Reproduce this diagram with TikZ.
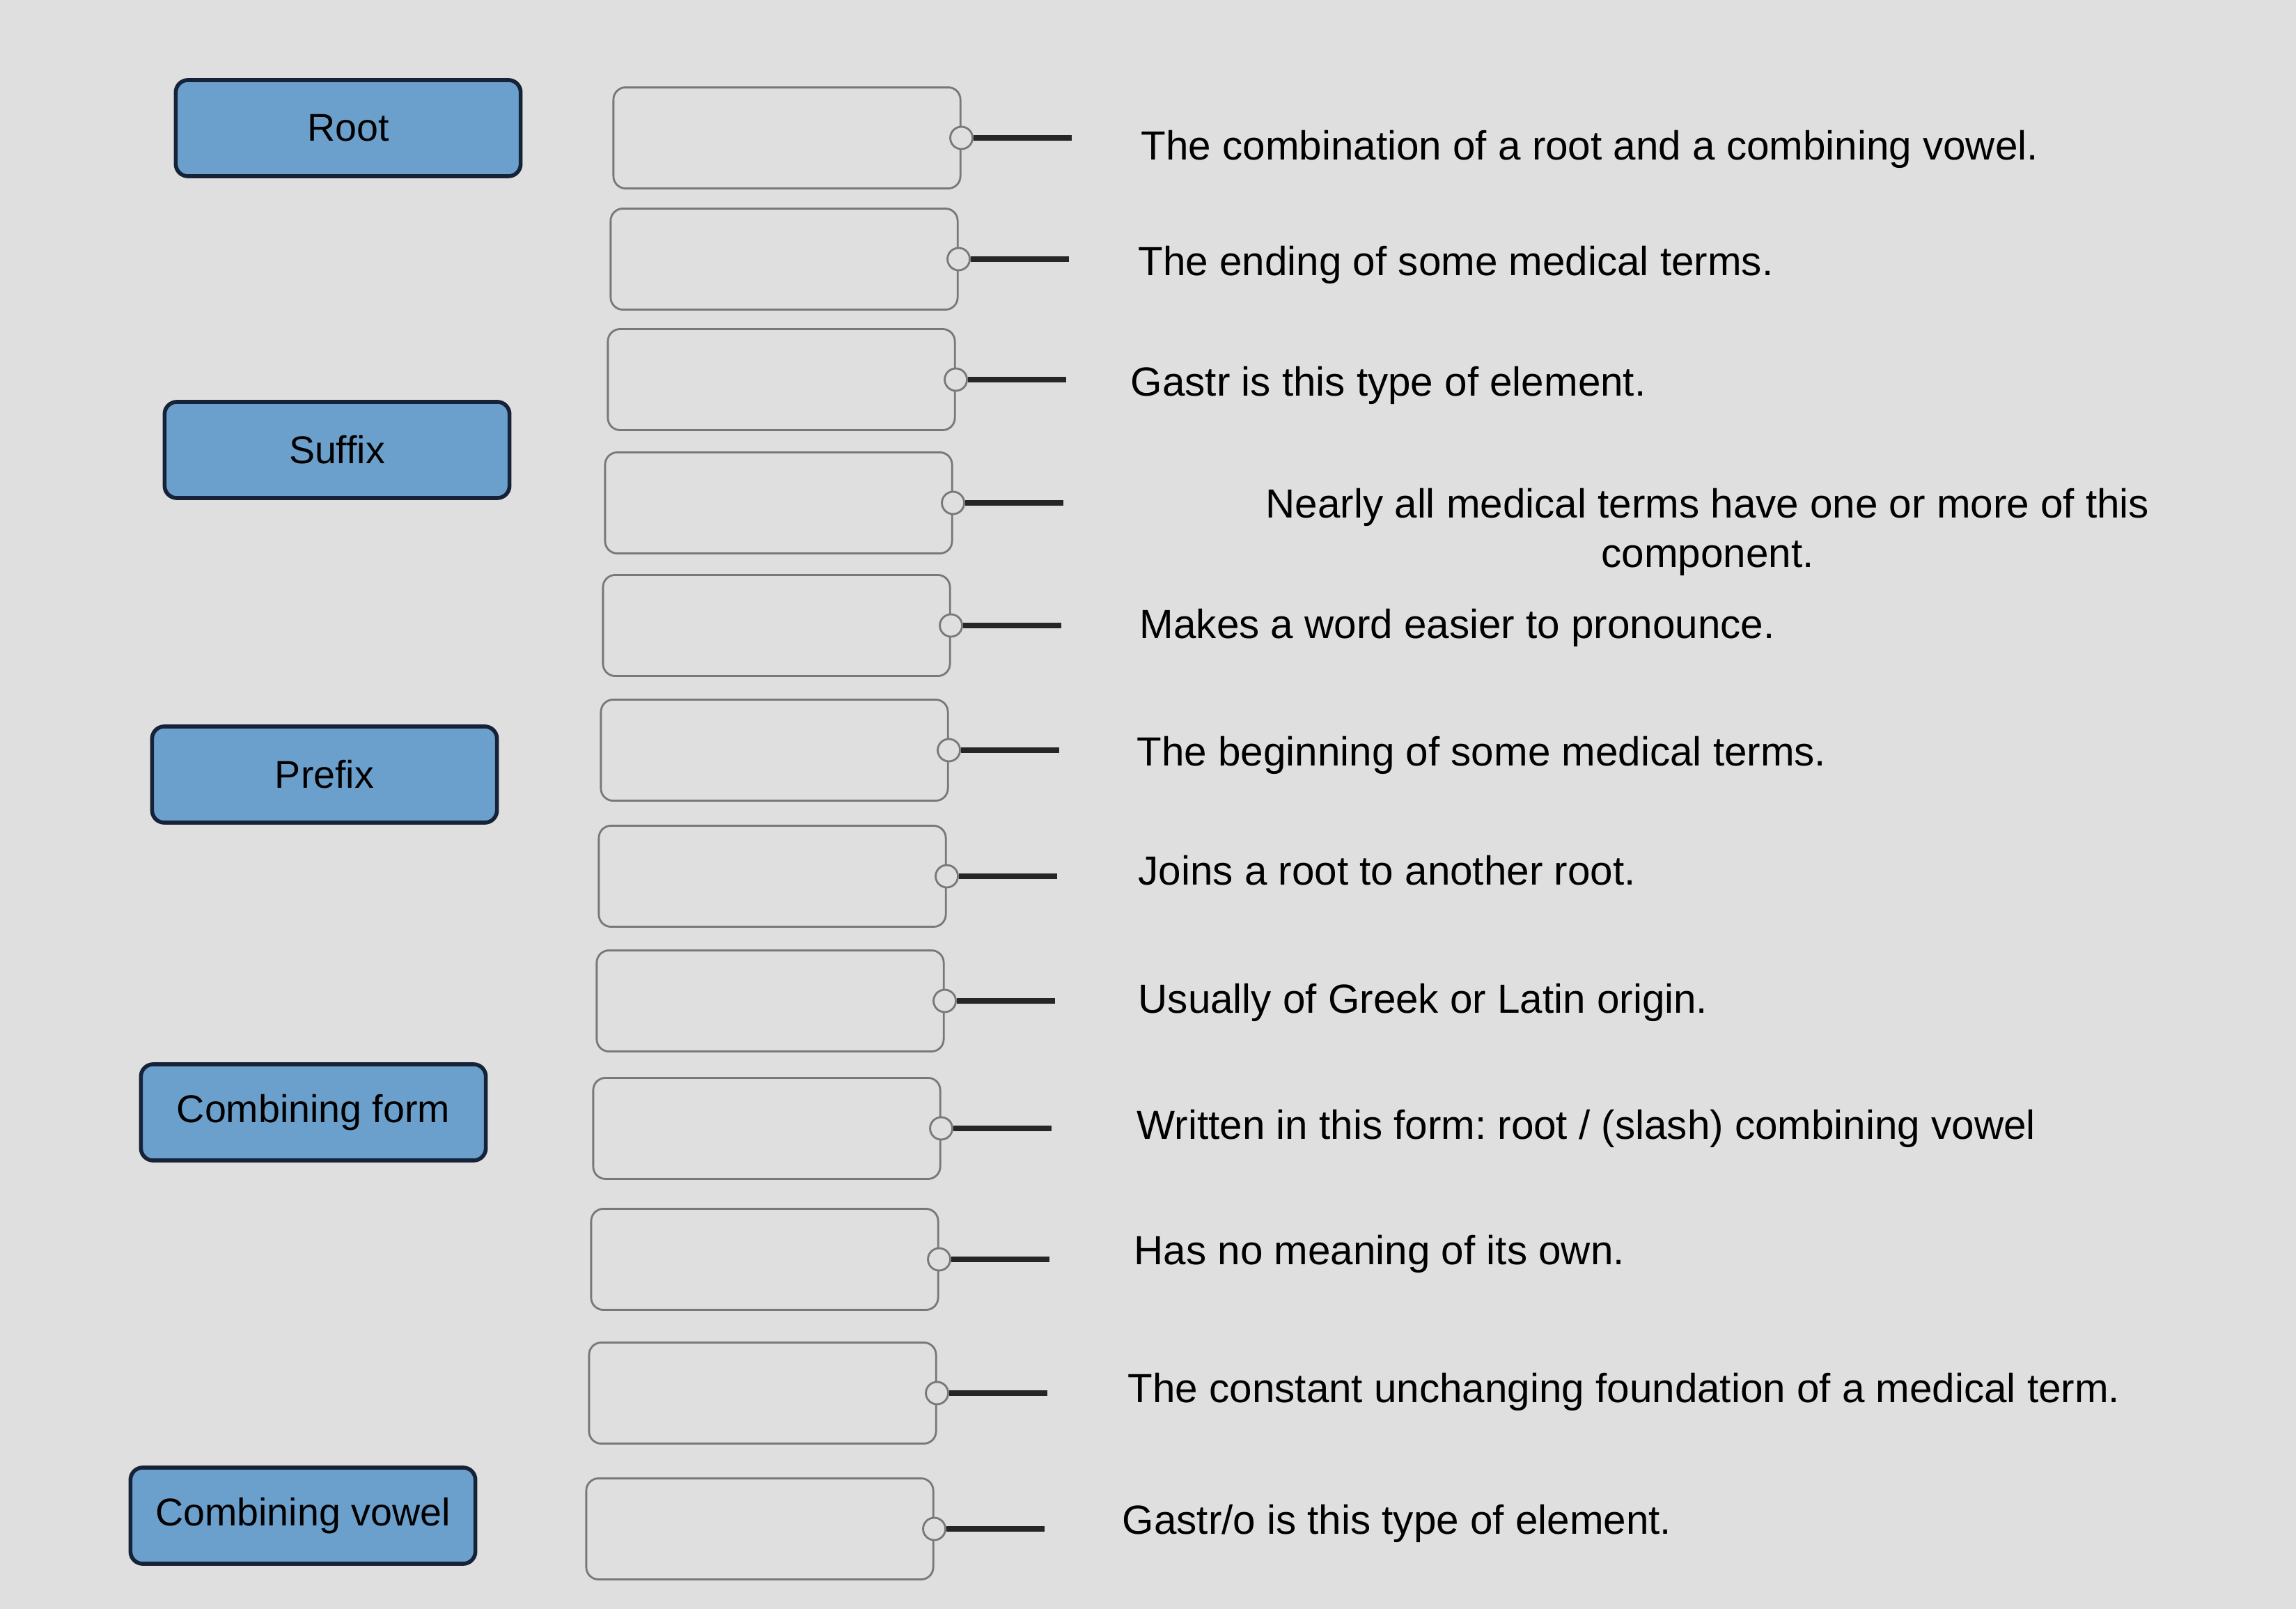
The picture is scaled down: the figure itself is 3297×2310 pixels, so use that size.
\documentclass[tikz,border=0pt]{standalone}
\usepackage{fontspec}
\setmainfont{Liberation Sans}
\frenchspacing
\definecolor{screen}{RGB}{222,223,222}
\definecolor{tagblue}{RGB}{108,160,204}
\definecolor{tagedge}{RGB}{22,34,56}
\definecolor{slotedge}{RGB}{120,120,120}
\tikzset{
  tag/.style={draw=tagedge, line width=1.6pt, fill=tagblue, rounded corners=5pt,
    minimum width=4.95cm, minimum height=1.38cm,
    font=\fontsize{15.8}{18}\selectfont, text=black},
  slot/.style={draw=slotedge, line width=0.8pt, rounded corners=5pt,
    minimum width=4.98cm, minimum height=1.45cm},
  knob/.style={circle, draw=slotedge, fill=screen, line width=0.8pt, inner sep=0pt, minimum size=0.32cm},
  stub/.style={line width=2.2pt, black!85},
  clue/.style={anchor=west, inner sep=0pt, font=\fontsize{16.6}{20}\selectfont, text=black}
}
\begin{document}
\begin{tikzpicture}[x=0.01cm, y=-0.01cm]
  \useasboundingbox[fill=screen] (0,0) rectangle (3297,2310);

  % terms to drag
  \node[tag] (root)   at (500,184)  {Root};
  \node[tag] (suffix) at (484,646)  {Suffix};
  \node[tag] (prefix) at (466,1112) {Prefix};
  \node[tag] (cform)  at (450,1597) {Combining form};
  \node[tag] (cvowel) at (435,2176) {Combining vowel};

  % drop slots with their stubs
  \foreach \i/\x/\y in {1/1130/198, 2/1126/372, 3/1122/545, 4/1118/722,
                        5/1115/898, 6/1112/1077, 7/1109/1258, 8/1106/1437,
                        9/1101/1620, 10/1098/1808, 11/1095/2000, 12/1091/2195} {
    \node[slot] (s\i) at (\x,\y) {};
    \node[knob] (k\i) at (s\i.east) {};
    \coordinate (e\i) at ([xshift=1.58cm]s\i.east);
    \draw[stub] (k\i) -- (e\i);
  }

  % definitions
  \node[clue] (d1)  at (1638,214)  {The combination of a root and a combining vowel.};
  \node[clue] (d2)  at (1634,380)  {The ending of some medical terms.};
  \node[clue] (d3)  at (1623,553)  {Gastr is this type of element.};
  \node[clue, anchor=center, align=center] (d4) at (2452,764)
    {Nearly all medical terms have one or more of this\\component.};
  \node[clue] (d5)  at (1636,901)  {Makes a word easier to pronounce.};
  \node[clue] (d6)  at (1632,1084) {The beginning of some medical terms.};
  \node[clue] (d7)  at (1634,1250) {Joins a root to another root.};
  \node[clue] (d8)  at (1634,1439) {Usually of Greek or Latin origin.};
  \node[clue] (d9)  at (1632,1620) {Written in this form: root / (slash) combining vowel};
  \node[clue] (d10) at (1628,1800) {Has no meaning of its own.};
  \node[clue] (d11) at (1619,1998) {The constant unchanging foundation of a medical term.};
  \node[clue] (d12) at (1611,2187) {Gastr/o is this type of element.};
\end{tikzpicture}
\end{document}
